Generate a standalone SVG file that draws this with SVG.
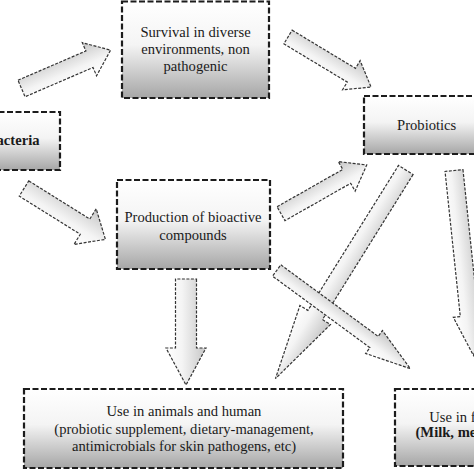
<svg xmlns="http://www.w3.org/2000/svg" width="474" height="474" viewBox="0 0 474 474">
<defs>
<linearGradient id="boxg" x1="0" y1="0" x2="0" y2="1">
<stop offset="0" stop-color="#ffffff"/>
<stop offset="0.45" stop-color="#f4f4f4"/>
<stop offset="1" stop-color="#a6a6a6"/>
</linearGradient>
<linearGradient id="arrg" x1="0" y1="0" x2="0" y2="1">
<stop offset="0" stop-color="#c6c6c6"/>
<stop offset="0.6" stop-color="#f4f4f4"/>
<stop offset="1" stop-color="#ffffff"/>
</linearGradient>
</defs>
<style>
.box{fill:url(#boxg);stroke:#1c1c1c;stroke-width:2.2;stroke-dasharray:6 2.5}
.arr{fill:url(#arrg);stroke:#333333;stroke-width:1.2;stroke-dasharray:3 1.5;stroke-linejoin:miter}
.t{font-family:"Liberation Serif","DejaVu Serif",serif;font-size:14.6px;fill:#1a1a1a;text-anchor:middle}
.b{font-weight:bold}
</style>
<rect width="474" height="474" fill="#ffffff"/>
<g id="connectors">
<polygon class="arr" transform="translate(21.5,88.5) rotate(-23.3)" points="0,-9 74,-9 74,-18 97,0 74,18 74,9 0,9"/>
<polygon class="arr" transform="translate(288,37) rotate(31.1)" points="0,-8 74,-8 74,-17 97,0 74,17 74,8 0,8"/>
<polygon class="arr" transform="translate(24,188.5) rotate(32)" points="0,-9 72,-9 72,-21 96,0 72,21 72,9 0,9"/>
<polygon class="arr" transform="translate(281,213.7) rotate(-29.6)" points="0,-8 75.6,-8 75.6,-17 98.6,0 75.6,17 75.6,8 0,8"/>
<polygon class="arr" transform="translate(186,279) rotate(90)" points="0,-10.5 69,-10.5 69,-20 106,0 69,20 69,10.5 0,10.5"/>
<polygon class="arr" transform="translate(405.8,170) rotate(122)" points="0,-8.6 171,-8.6 171,-18 246,0 171,18 171,8.6 0,8.6"/>
<polygon class="arr" transform="translate(276.7,270.5) rotate(36.3)" points="0,-7 120.8,-7 120.8,-14.2 165.8,0 120.8,14.2 120.8,7 0,7"/>
<polygon class="arr" transform="translate(454,170.5) rotate(84)" points="0,-9 146,-9 146,-16 186,0 146,16 146,9 0,9"/>
</g>
<g id="survival">
<rect class="box" x="122" y="1.5" width="147" height="96.5"/>
<text class="t" x="195.5" y="37">Survival in diverse</text>
<text class="t" x="195.5" y="54">environments, non</text>
<text class="t" x="195.5" y="71">pathogenic</text>
</g>
<g id="bacteria">
<rect class="box" x="-10" y="112" width="70" height="58"/>
<text class="t b" x="39.5" y="144.5" style="text-anchor:end">acteria</text>
</g>
<g id="production">
<rect class="box" x="117" y="180" width="153" height="89"/>
<text class="t" x="193" y="222">Production of bioactive</text>
<text class="t" x="193" y="239.5">compounds</text>
</g>
<g id="probiotics">
<rect class="box" x="364" y="96" width="120" height="58"/>
<text class="t" x="426.7" y="130">Probiotics</text>
</g>
<g id="use-animals">
<rect class="box" x="24" y="389" width="319" height="79"/>
<text class="t" x="184" y="416">Use in animals and human</text>
<text class="t" x="184" y="433.5">(probiotic supplement, dietary-management,</text>
<text class="t" x="184" y="451">antimicrobials for skin pathogens, etc)</text>
</g>
<g id="use-food">
<rect class="box" x="395" y="389" width="90" height="77"/>
<text class="t" x="429.3" y="422" style="text-anchor:start">Use in f</text>
<text class="t b" x="415.5" y="437" style="text-anchor:start">(Milk, me</text>
</g>
</svg>
